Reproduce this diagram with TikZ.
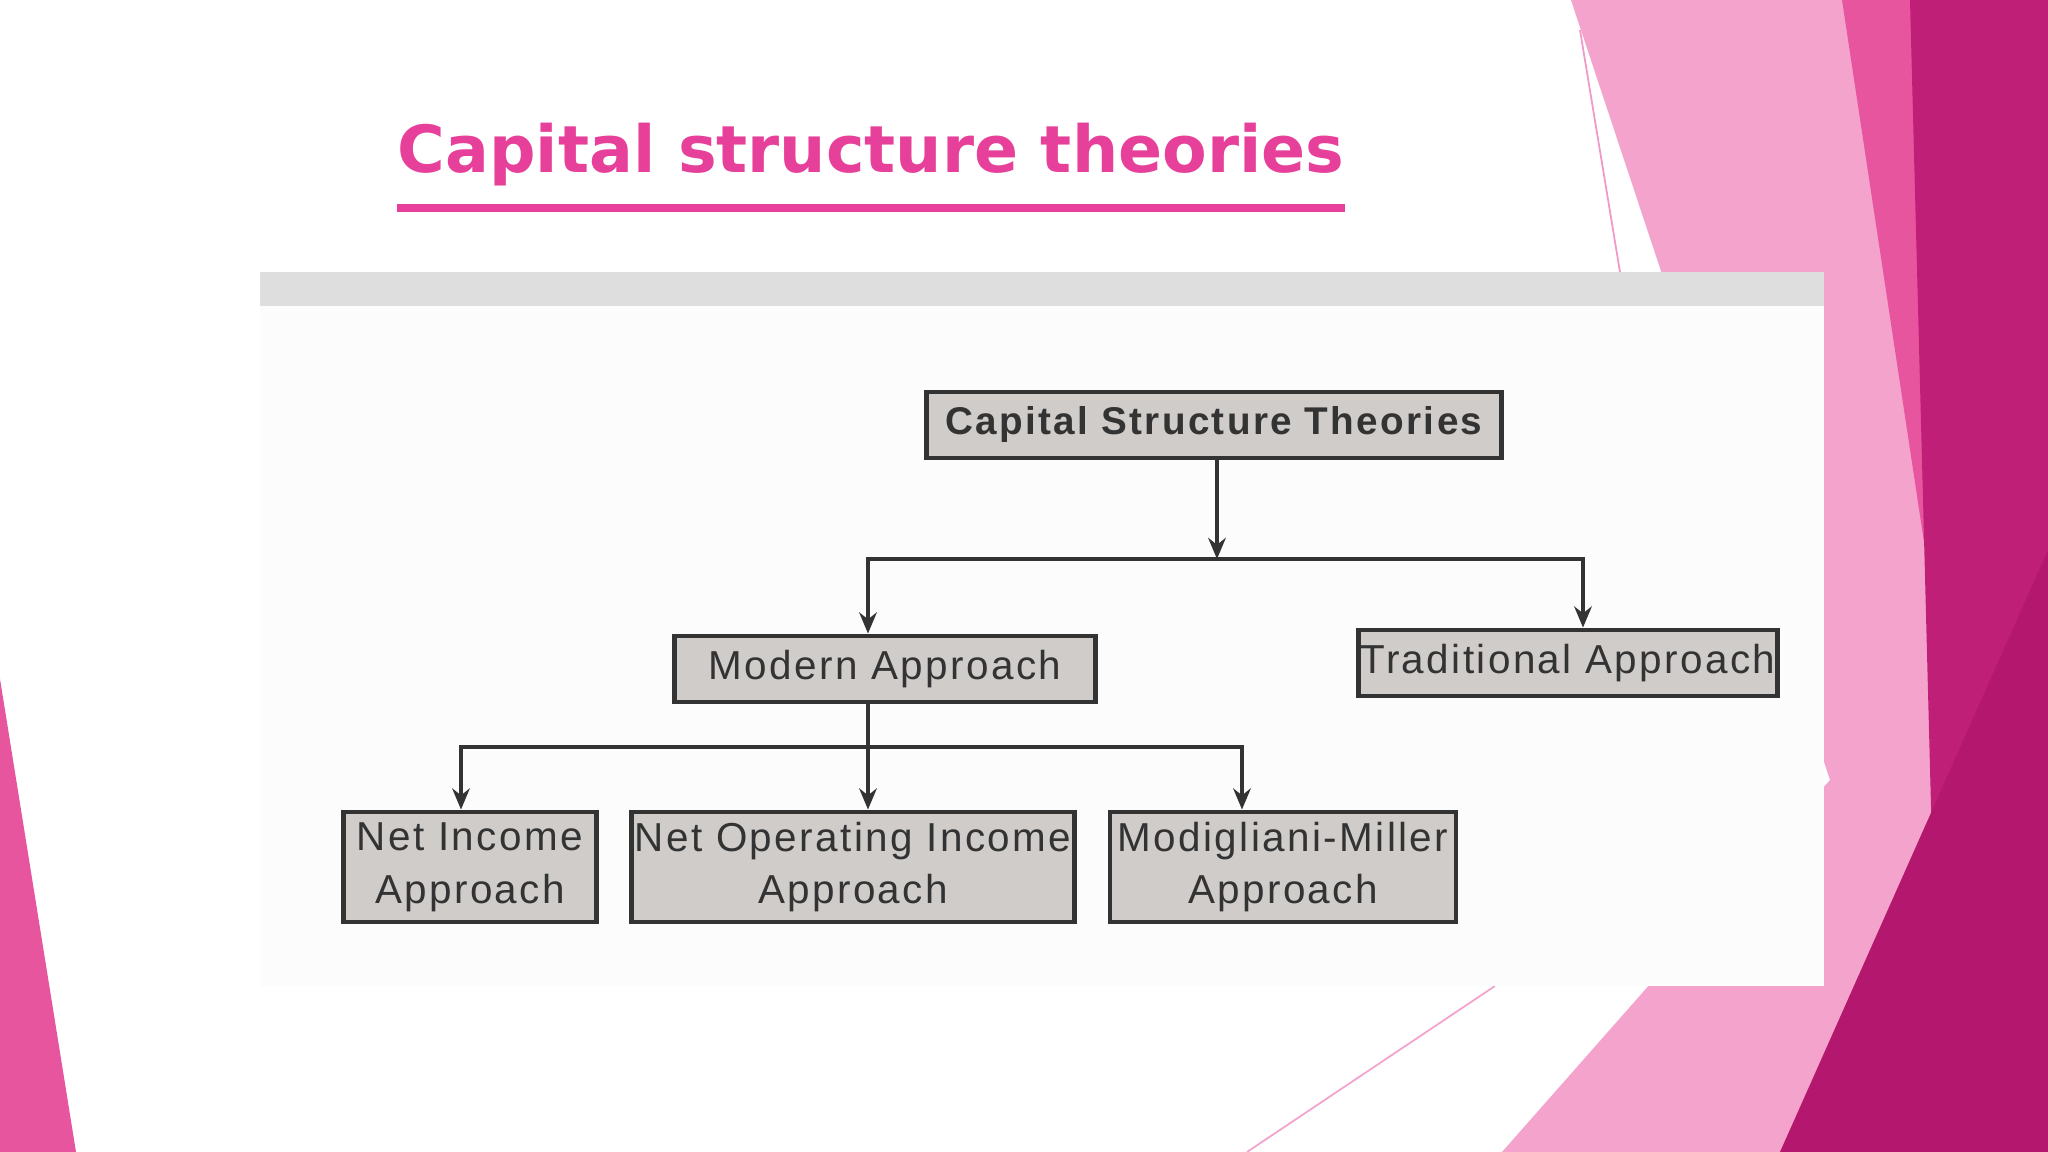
\documentclass[tikz,border=0pt]{standalone}
\usepackage{fontspec}
\setmainfont{Liberation Sans}
\newfontfamily\titlefont{DejaVu Sans}
\usetikzlibrary{arrows.meta, positioning, calc}
\definecolor{pinkA}{HTML}{F4A3CD}
\definecolor{pinkB}{HTML}{E8559F}
\definecolor{pinkC}{HTML}{C01F78}
\definecolor{pinkD}{HTML}{B3186E}
\definecolor{titlepink}{HTML}{E6409A}
\definecolor{boxgray}{HTML}{CFCCCA}
\tikzset{
  theorybox/.style={draw=black!80, line width=1.4pt, fill=boxgray, text=black!80, minimum height=0.66cm, inner sep=0pt, font=\addfontfeature{LetterSpace=6}\fontsize{11.5}{15}\selectfont, align=center},
  twoline/.style={theorybox, minimum height=1.1cm},
  link/.style={draw=black!80, line width=1.4pt},
  arrowlink/.style={link, -{Stealth[length=6pt,width=5pt]}}
}
\begin{document}
\begin{tikzpicture}
\useasboundingbox (0,0) rectangle (20.48,-11.52);
\fill[white] (0,0) rectangle (20.48,-11.52);
% Background shapes
\fill[pinkA] (15.71,0) -- (20.48,0) -- (20.48,-11.52) -- (15.02,-11.52) -- (18.3,-7.8) -- cycle;
\fill[pinkB] (18.42,0) -- (20.48,0) -- (20.48,-11.52) -- (18.3,-11.52) -- (19.6,-7.8) -- cycle;
\fill[pinkC] (19.1,0) -- (20.48,0) -- (20.48,-11.52) -- (19.4,-11.52) -- cycle;
\fill[pinkD] (20.48,-5.5) -- (20.48,-11.52) -- (17.8,-11.52) -- cycle;
\fill[pinkB] (0,-6.79) -- (0.76,-11.52) -- (0,-11.52) -- cycle;
\draw[pinkA, line width=0.5pt] (14.95,-9.86) -- (12.47,-11.52);
\draw[pinkB!60, line width=0.5pt] (15.8,-0.3) -- (16.2,-2.72);
% Panel
\fill[white!99!black] (2.60,-2.72) rectangle (18.24,-9.86);
\fill[black!13] (2.60,-2.72) rectangle (18.24,-3.06);
% Title
\node[titlepink, font=\titlefont\bfseries\fontsize{18.5}{22}\selectfont, inner sep=0pt] (title) at (8.71,-1.55) {Capital structure theories};
\draw[titlepink, line width=2.2pt] ([yshift=-6pt]title.south west) -- ([yshift=-6pt]title.south east);
% Boxes
\node[theorybox, minimum width=5.75cm, font=\bfseries\addfontfeature{LetterSpace=6}\fontsize{11}{15}\selectfont] (cst) at (12.14,-4.25) {Capital Structure Theories};
\node[theorybox, minimum width=4.21cm] (modern) at (8.85,-6.69) {Modern Approach};
\node[theorybox, minimum width=4.19cm] (trad) at (15.68,-6.63) {Traditional Approach};
\node[twoline, minimum width=2.53cm] (ni) at (4.70,-8.67) {Net Income\\Approach};
\node[twoline, minimum width=4.43cm] (noi) at (8.53,-8.67) {Net Operating Income\\Approach};
\node[twoline, minimum width=3.46cm] (mm) at (12.83,-8.67) {Modigliani-Miller\\Approach};
% Connectors
\coordinate (j1) at (12.17,-5.59);
\coordinate (j2) at (8.68,-7.47);
\draw[arrowlink] (cst.south -| j1) -- (j1);
\draw[arrowlink] (j1) -| (modern.north -| j2);
\draw[arrowlink] (j1) -| ($(trad.north)+(0.15,0)$);
\draw[arrowlink] (modern.south -| j2) -- (noi.north -| j2);
\draw[arrowlink] (j2) -| ($(ni.north)+(-0.09,0)$);
\draw[arrowlink] (j2) -| ($(mm.north)+(-0.41,0)$);
\end{tikzpicture}
\end{document}
